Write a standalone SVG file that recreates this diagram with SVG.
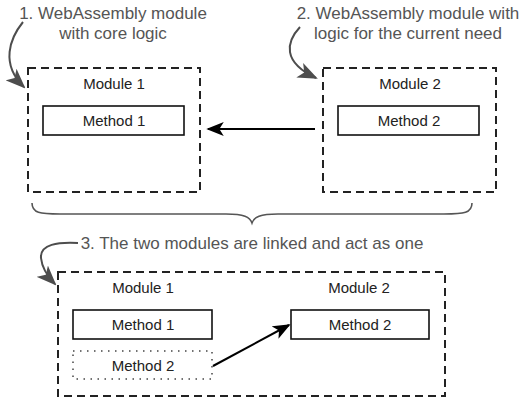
<svg xmlns="http://www.w3.org/2000/svg" width="531" height="401" viewBox="0 0 531 401">
<defs>
<style>
.lbl{font-family:"Liberation Sans",Arial,sans-serif;font-size:17px;fill:#555;text-anchor:middle}
.txt{font-family:"Liberation Sans",Arial,sans-serif;font-size:15px;fill:#222;text-anchor:middle}
.mod{fill:none;stroke:#222;stroke-width:2;stroke-dasharray:8 5}
.meth{fill:#fff;stroke:#111;stroke-width:1.6}
.dot{fill:none;stroke:#444;stroke-width:1.5;stroke-dasharray:1.5 5.5}
.curve{fill:none;stroke:#4d4d4d;stroke-width:2}
.link{fill:none;stroke:#000;stroke-width:2}
</style>
<marker id="ga" viewBox="0 0 20 16" refX="18" refY="8" markerWidth="20" markerHeight="16" markerUnits="userSpaceOnUse" orient="auto">
<path d="M0 0 L20 8 L0 16 L5 8 Z" fill="#4d4d4d"/>
</marker>
<marker id="ba" viewBox="0 0 20 16" refX="18" refY="8" markerWidth="18" markerHeight="14" markerUnits="userSpaceOnUse" orient="auto">
<path d="M0 0 L20 8 L0 16 L5 8 Z" fill="#000"/>
</marker>
</defs>
<rect width="531" height="401" fill="#fff"/>

<g id="label1">
<text class="lbl" x="113" y="19">1. WebAssembly module</text>
<text class="lbl" x="113" y="39">with core logic</text>
</g>
<g id="label2">
<text class="lbl" x="408" y="19">2. WebAssembly module with</text>
<text class="lbl" x="408" y="39">logic for the current need</text>
</g>

<g id="module1">
<rect class="mod" x="28" y="68" width="172" height="124"/>
<text class="txt" x="114" y="89">Module 1</text>
</g>
<g id="method1">
<rect class="meth" x="43" y="106" width="141" height="29"/>
<text class="txt" x="114" y="126">Method 1</text>
</g>

<g id="module2">
<rect class="mod" x="323" y="68" width="173" height="124"/>
<text class="txt" x="410" y="89">Module 2</text>
</g>
<g id="method2">
<rect class="meth" x="338" y="106" width="141" height="29"/>
<text class="txt" x="409" y="126">Method 2</text>
</g>

<g id="brace">
<path d="M32 203 C32 213 40 214 60 214 L226 214 C244 214 250 217 252 223 C254 217 260 214 278 214 L444 214 C464 214 472 213 472 203" fill="none" stroke="#555" stroke-width="1.6"/>
</g>

<g id="label3">
<text class="lbl" x="252" y="249">3. The two modules are linked and act as one</text>
</g>

<g id="combined">
<rect class="mod" x="58" y="272" width="387" height="124"/>
<text class="txt" x="143" y="293">Module 1</text>
<text class="txt" x="359" y="293">Module 2</text>
</g>
<g id="method1b">
<rect class="meth" x="73" y="310" width="139" height="29"/>
<text class="txt" x="143" y="330">Method 1</text>
</g>
<g id="method2copy">
<rect class="dot" x="73" y="351" width="139" height="28"/>
<text class="txt" x="143" y="371">Method 2</text>
</g>
<g id="method2b">
<rect class="meth" x="291" y="310" width="138" height="29"/>
<text class="txt" x="360" y="330">Method 2</text>
</g>

<g id="connectors">
<path class="curve" d="M23 22 C10 38 0 64 24 87" marker-end="url(#ga)"/>
<path class="curve" d="M300 27 C286 42 282 62 316 78" marker-end="url(#ga)"/>
<path class="curve" d="M78 243 C58 242 40 244 41 258 C42 268 47 276 55 284" marker-end="url(#ga)"/>
<path class="link" d="M315 129 L208 129" marker-end="url(#ba)"/>
<path class="link" d="M213 366 L289 325" marker-end="url(#ba)"/>
</g>
</svg>
